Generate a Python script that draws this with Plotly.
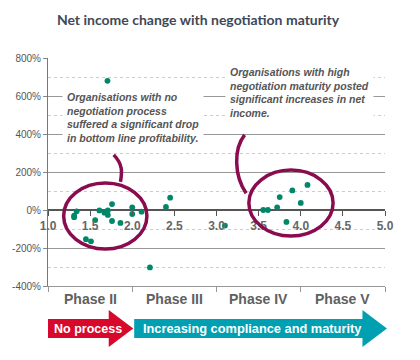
import plotly.graph_objects as go

# ---- data ----
maturity = [1.31, 1.31, 1.34, 1.45, 1.51, 1.56, 1.61, 1.67, 1.71, 1.71, 1.706, 1.76, 1.76, 1.86,
            2.00, 2.00, 2.11, 2.21, 2.40, 2.45, 3.10, 3.555, 3.61, 3.72, 3.75, 3.83, 3.90, 4.00, 4.08]
net_income_change = [-30, -38, -7, -154, -165, -53, -2, -14, -2, -26, 680, 31, -58, -68,
                     14, -21, -9, -302, 16, 65, -82, 0, 0, 14, 68, -63, 103, 37, 132]
y_ticks = [-400, -200, 0, 200, 400, 600, 800]
x_ticks = [1.0, 1.5, 2.0, 2.5, 3.0, 3.5, 4.0, 4.5, 5.0]
phase_bounds = [1, 2, 3, 4, 5]
phase_labels = ["Phase II", "Phase III", "Phase IV", "Phase V"]
title_text = "Net income change with negotiation maturity"
note_left = "Organisations with no<br>negotiation process<br>suffered a significant drop<br>in bottom line profitability."
note_right = "Organisations with high<br>negotiation maturity posted<br>significant increases in net<br>income."
arrow_labels = ["No process", "Increasing compliance and maturity"]

# ---- layout geometry (pixels) ----
W, H = 420, 360
L, R, T, B = 41, 385, 58, 286


def px(x):
    return (x - L) / (R - L)


def py(y):
    return (B - y) / (B - T)


fig = go.Figure()
fig.add_trace(go.Scatter(x=maturity, y=net_income_change, mode="markers",
                         marker=dict(color="#00876a", size=5.8), showlegend=False,
                         hoverinfo="x+y"))
fig.add_trace(go.Scatter(x=[None], y=[None], xaxis="x2", showlegend=False, hoverinfo="skip"))

shapes = []
maroon = "#8a0c4f"
# circles (data coordinates)
shapes.append(dict(type="circle", xref="x", yref="y", x0=1.186, x1=2.174, y0=-205, y1=142,
                   line=dict(color=maroon, width=3.5)))
shapes.append(dict(type="circle", xref="x", yref="y", x0=3.384, x1=4.384, y0=-137, y1=210,
                   line=dict(color=maroon, width=3.5)))
shapes.append(dict(type="path", xref="x", yref="y",
                   path="M 1.78 290 C 1.89 240, 1.88 200, 1.86 148",
                   line=dict(color=maroon, width=3.5)))
shapes.append(dict(type="path", xref="x", yref="y",
                   path="M 3.334 395 C 3.20 320, 3.21 180, 3.352 88",
                   line=dict(color=maroon, width=3.5)))


def poly(pts):
    s = "M " + " L ".join(f"{px(a):.4f},{py(b):.4f}" for a, b in pts) + " Z"
    return s


red_pts = [(41, 319), (103, 319), (103, 310), (128, 328.5), (103, 347), (103, 338), (41, 338)]
teal_pts = [(129, 319), (362, 319), (362, 310), (387, 328.5), (362, 347), (362, 338), (129, 338)]
shapes.append(dict(type="path", xref="paper", yref="paper", path=poly(red_pts),
                   fillcolor="#d7082c", line=dict(width=0)))
shapes.append(dict(type="path", xref="paper", yref="paper", path=poly(teal_pts),
                   fillcolor="#00a0b2", line=dict(width=0)))

annotations = []
for i, lab in enumerate(phase_labels):
    annotations.append(dict(x=(phase_bounds[i] + phase_bounds[i + 1]) / 2, xref="x",
                            y=py(299), yref="paper", text=lab, showarrow=False,
                            font=dict(family="Liberation Sans", size=14, color="#606060", weight="bold"),
                            xanchor="center", yanchor="middle"))
annotations.append(dict(x=px(55), y=py(117.5), xref="paper", yref="paper", text=note_left,
                        showarrow=False, align="left", xanchor="left", yanchor="middle",
                        bgcolor="white", borderpad=4,
                        font=dict(family="Liberation Sans", size=10.5, color="#555555",
                                  weight="bold", style="italic")))
annotations.append(dict(x=px(222), y=py(92.5), xref="paper", yref="paper", text=note_right,
                        showarrow=False, align="left", xanchor="left", yanchor="middle",
                        bgcolor="white", borderpad=4,
                        font=dict(family="Liberation Sans", size=10.5, color="#555555",
                                  weight="bold", style="italic")))
annotations.append(dict(x=px(45), y=py(328.5), xref="paper", yref="paper", text=arrow_labels[0],
                        showarrow=False, xanchor="left", yanchor="middle",
                        font=dict(family="Liberation Sans", size=12.5, color="white", weight="bold")))
annotations.append(dict(x=px(136), y=py(328.5), xref="paper", yref="paper", text=arrow_labels[1],
                        showarrow=False, xanchor="left", yanchor="middle",
                        font=dict(family="Liberation Sans", size=12.8, color="white", weight="bold")))

fig.update_layout(
    width=W, height=H, autosize=False,
    margin=dict(l=L, r=W - R, t=T, b=H - B, pad=0),
    plot_bgcolor="white", paper_bgcolor="white",
    title=dict(text=title_text, x=198 / W, xref="container", xanchor="center",
               y=1 - 20 / H, yref="container", yanchor="middle",
               font=dict(family="Lato", size=14, color="#3e4858", weight="bold")),
    xaxis=dict(range=[1, 5], anchor="free", position=1 / 3, tickvals=x_ticks,
               ticktext=[f"{v:.1f}" for v in x_ticks], ticks="outside", ticklen=5,
               tickcolor="#555555", tickwidth=1, showline=False, showgrid=False, zeroline=False,
               tickfont=dict(family="Liberation Sans", size=12, color="#666666", weight="bold")),
    xaxis2=dict(range=[1, 5], overlaying="x", anchor="y", side="bottom", tickvals=phase_bounds,
                ticks="outside", ticklen=5, tickcolor="#999999", showticklabels=False,
                showline=True, linecolor="#999999", linewidth=1, showgrid=False, zeroline=False),
    yaxis=dict(range=[-400, 800], tickvals=y_ticks, ticktext=[f"{v}%" for v in y_ticks],
               ticks="outside", ticklen=4, tickcolor="#888888", showline=True,
               linecolor="#777777", linewidth=1, showgrid=True, gridcolor="#999999", gridwidth=1,
               zeroline=True, zerolinecolor="#555555", zerolinewidth=1.5,
               minor=dict(dtick=100, tick0=0, showgrid=True, griddash="dot", gridcolor="#cccccc",
                          gridwidth=1),
               tickfont=dict(family="Liberation Sans", size=10, color="#555555")),
    shapes=shapes, annotations=annotations,
)

fig.write_html("out.html", config={"displayModeBar": False},
               post_script="document.body.style.margin='0';")
